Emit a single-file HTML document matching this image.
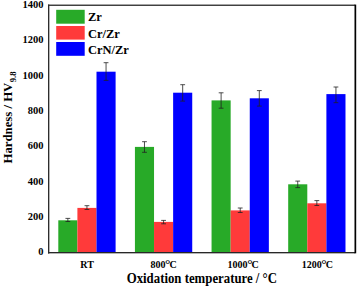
<!DOCTYPE html>
<html><head><meta charset="utf-8"><style>
html,body{margin:0;padding:0;background:#fff;}
body{width:357px;height:287px;overflow:hidden;}
svg{display:block;}
text{font-family:"Liberation Serif",serif;font-weight:bold;fill:#000;}
</style></head><body>
<svg width="357" height="287" viewBox="0 0 357 287">
<rect width="357" height="287" fill="#fff"/>
<rect x="58.30" y="220.30" width="19.10" height="31.90" fill="rgb(40,170,40)"/><rect x="77.40" y="207.90" width="19.10" height="44.30" fill="rgb(255,58,58)"/><rect x="96.50" y="71.70" width="19.10" height="180.50" fill="#0000ff"/><rect x="134.93" y="146.90" width="19.10" height="105.30" fill="rgb(40,170,40)"/><rect x="154.03" y="221.90" width="19.10" height="30.30" fill="rgb(255,58,58)"/><rect x="173.13" y="92.70" width="19.10" height="159.50" fill="#0000ff"/><rect x="211.56" y="100.40" width="19.10" height="151.80" fill="rgb(40,170,40)"/><rect x="230.66" y="210.40" width="19.10" height="41.80" fill="rgb(255,58,58)"/><rect x="249.76" y="98.30" width="19.10" height="153.90" fill="#0000ff"/><rect x="288.19" y="184.30" width="19.10" height="67.90" fill="rgb(40,170,40)"/><rect x="307.29" y="203.30" width="19.10" height="48.90" fill="rgb(255,58,58)"/><rect x="326.39" y="94.10" width="19.10" height="158.10" fill="#0000ff"/>
<g stroke="#222" stroke-width="0.8" fill="none"><path d="M67.85 218.40V221.50M65.45 218.40H70.25M65.45 221.50H70.25"/><path d="M86.95 205.70V209.50M84.55 205.70H89.35M84.55 209.50H89.35"/><path d="M106.05 62.70V80.40M103.65 62.70H108.45M103.65 80.40H108.45"/><path d="M144.48 141.70V152.30M142.08 141.70H146.88M142.08 152.30H146.88"/><path d="M163.58 220.40V223.80M161.18 220.40H165.98M161.18 223.80H165.98"/><path d="M182.68 84.70V101.10M180.28 84.70H185.08M180.28 101.10H185.08"/><path d="M221.11 92.80V108.20M218.71 92.80H223.51M218.71 108.20H223.51"/><path d="M240.21 208.00V212.50M237.81 208.00H242.61M237.81 212.50H242.61"/><path d="M259.31 90.60V106.10M256.91 90.60H261.71M256.91 106.10H261.71"/><path d="M297.74 181.10V187.60M295.34 181.10H300.14M295.34 187.60H300.14"/><path d="M316.84 200.60V205.50M314.44 200.60H319.24M314.44 205.50H319.24"/><path d="M335.94 87.00V102.70M333.54 87.00H338.34M333.54 102.70H338.34"/></g>
<rect x="48" y="4.55" width="307" height="1.4" fill="rgb(55,55,55)"/>
<rect x="48" y="4.55" width="1.35" height="249" fill="rgb(45,45,45)"/>
<rect x="48" y="252.0" width="307" height="1.35" fill="rgb(40,40,40)"/>
<rect x="354.5" y="4.55" width="1.7" height="248.8" fill="#000"/>
<rect x="56.2" y="9.8" width="28.5" height="13.9" fill="rgb(40,170,40)"/>
<rect x="56.2" y="26" width="28.5" height="13.6" fill="rgb(255,58,58)"/>
<rect x="56.2" y="42" width="28.5" height="13.8" fill="#0000ff"/>
<g font-size="12.5">
<text transform="translate(87.9,21.3) scale(1,1.08)">Zr</text>
<text transform="translate(87.9,37.6) scale(1,1.08)">Cr/Zr</text>
<text transform="translate(87.9,53.9) scale(1,1.08)">CrN/Zr</text>
</g>
<g font-size="10.5"><text transform="translate(43.5,255.35) scale(1,1.07)" text-anchor="end">0</text><text transform="translate(43.5,220.01) scale(1,1.07)" text-anchor="end">200</text><text transform="translate(43.5,184.67) scale(1,1.07)" text-anchor="end">400</text><text transform="translate(43.5,149.34) scale(1,1.07)" text-anchor="end">600</text><text transform="translate(43.5,114.00) scale(1,1.07)" text-anchor="end">800</text><text transform="translate(43.5,78.66) scale(1,1.07)" text-anchor="end">1000</text><text transform="translate(43.5,43.32) scale(1,1.07)" text-anchor="end">1200</text><text transform="translate(43.5,7.98) scale(1,1.07)" text-anchor="end">1400</text></g>
<g font-size="10" text-anchor="middle">
<text x="87.1" y="267.8">RT</text>
<text x="163.5" y="267.8">800<tspan font-size="13.5" dx="-0.4" dy="0.4">°</tspan><tspan dx="-1" dy="-0.4">C</tspan></text>
<text x="243.2" y="267.8">1000<tspan font-size="13.5" dx="-0.4" dy="0.4">°</tspan><tspan dx="-1" dy="-0.4">C</tspan></text>
<text x="317.3" y="267.8">1200<tspan font-size="13.5" dx="-0.4" dy="0.4">°</tspan><tspan dx="-1" dy="-0.4">C</tspan></text>
</g>
<text transform="translate(126.7,283) scale(1,1.16)" font-size="12.8">Oxidation temperature / °C</text>
<text transform="translate(11.6,163.5) rotate(-90) scale(1.022,1)" font-size="12.5">Hardness / HV<tspan font-size="8.4" dx="0.4" dy="4.3">9.8</tspan></text>
</svg>
</body></html>
